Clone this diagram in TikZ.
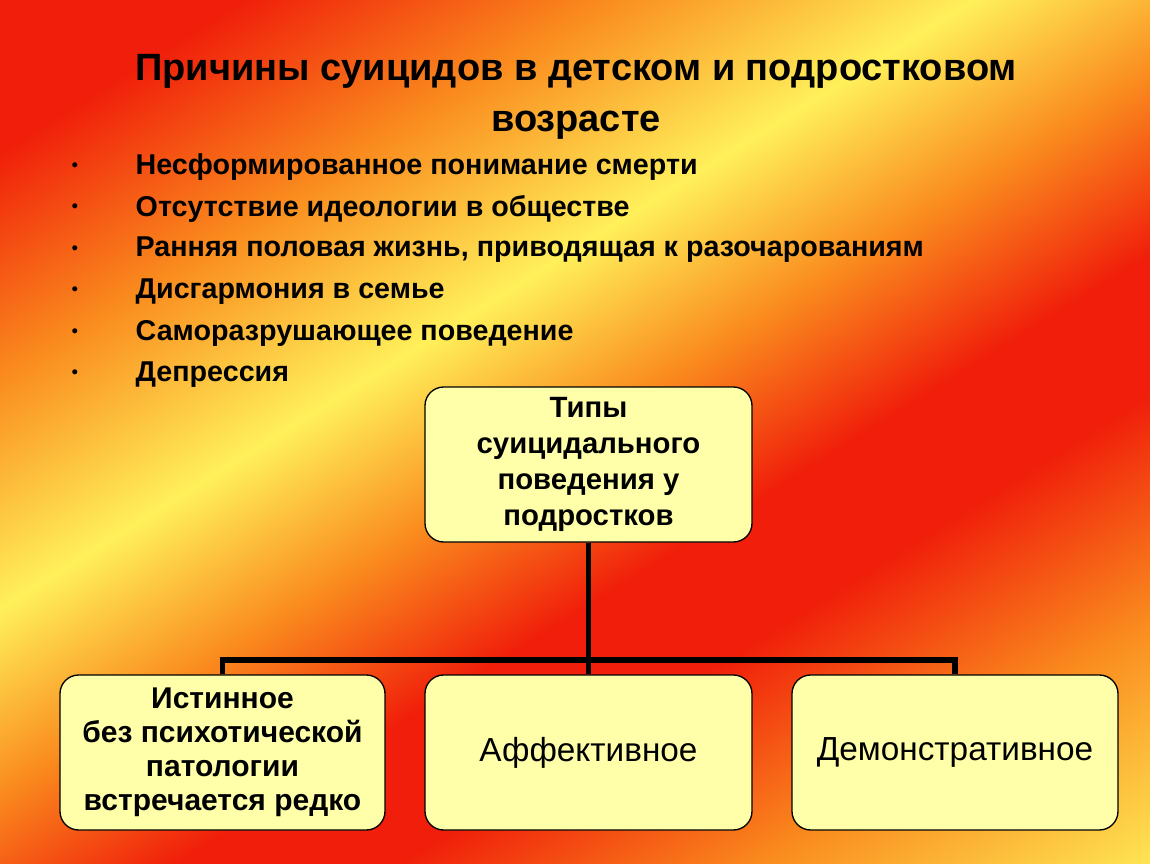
\documentclass[tikz,border=0pt]{standalone}
\usepackage{fontspec}
\setmainfont{Liberation Sans}
\definecolor{boxy}{RGB}{255,255,170}
\definecolor{rd}{RGB}{240,30,10}
\definecolor{yl}{RGB}{255,240,90}
\definecolor{or}{RGB}{250,140,30}
\pgfdeclarehorizontalshading{bg}{100bp}{color(0bp)=(rd); color(22bp)=(rd); color(32bp)=(or); color(42bp)=(yl); color(50bp)=(or); color(58bp)=(rd); color(64bp)=(rd); color(74bp)=(or); color(86bp)=(yl); color(100bp)=(yl)}
\begin{document}
\begin{tikzpicture}[x=0.75pt,y=-0.75pt,
  box/.style={draw=black,line width=1pt,fill=boxy,rounded corners=14pt,align=center,inner sep=0pt},
  conn/.style={line width=4pt,black},
  bul/.style={anchor=west,font=\bfseries\fontsize{21.5}{24}\selectfont,text=black}]
\shade[shading=bg,shading angle=-58] (0,0) rectangle (1150,864);
\useasboundingbox (0,0) rectangle (1150,864);
\node[font=\bfseries\fontsize{28.5}{38}\selectfont,align=center,text=black] (title) at (576,97) {Причины суицидов в детском и подростковом\\возрасте};
\foreach \i/\t in {0/Несформированное понимание смерти,1/Отсутствие идеологии в обществе,2/{Ранняя половая жизнь, приводящая к разочарованиям},3/Дисгармония в семье,4/Саморазрушающее поведение,5/Депрессия}{
  \node[bul] (b\i) at (131,{167+41.5*\i}) {\t};
  \node[anchor=center,font=\fontsize{14}{16}\selectfont] (d\i) at (75,{167+41.5*\i}) {•};
}
\node[box,minimum width=327pt*0.75,minimum height=155pt*0.75,font=\bfseries\fontsize{22}{27}\selectfont] (top) at (588.5,464.5) {Типы\\суицидального\\поведения у\\ подростков};
\node[box,minimum width=325pt*0.75,minimum height=155pt*0.75,font=\bfseries\fontsize{22.5}{25.5}\selectfont] (l) at (222.5,752.5) {Истинное\\без психотической\\патологии\\встречается редко};
\node[box,minimum width=327pt*0.75,minimum height=155pt*0.75,font=\fontsize{25}{30}\selectfont] (m) at (588.5,752.5) {Аффективное};
\node[box,minimum width=326pt*0.75,minimum height=155pt*0.75,font=\fontsize{25}{30}\selectfont] (r) at (955,752.5) {Демонстративное};
\coordinate (j) at (588.5,660);
\coordinate (jl) at (222.5,660);
\coordinate (jr) at (955,660);
\draw[conn] (top.south) -- (j);
\draw[conn] (l.north) -- (jl) -- (jr) -- (r.north);
\draw[conn] (j) -- (m.north);
\end{tikzpicture}
\end{document}
